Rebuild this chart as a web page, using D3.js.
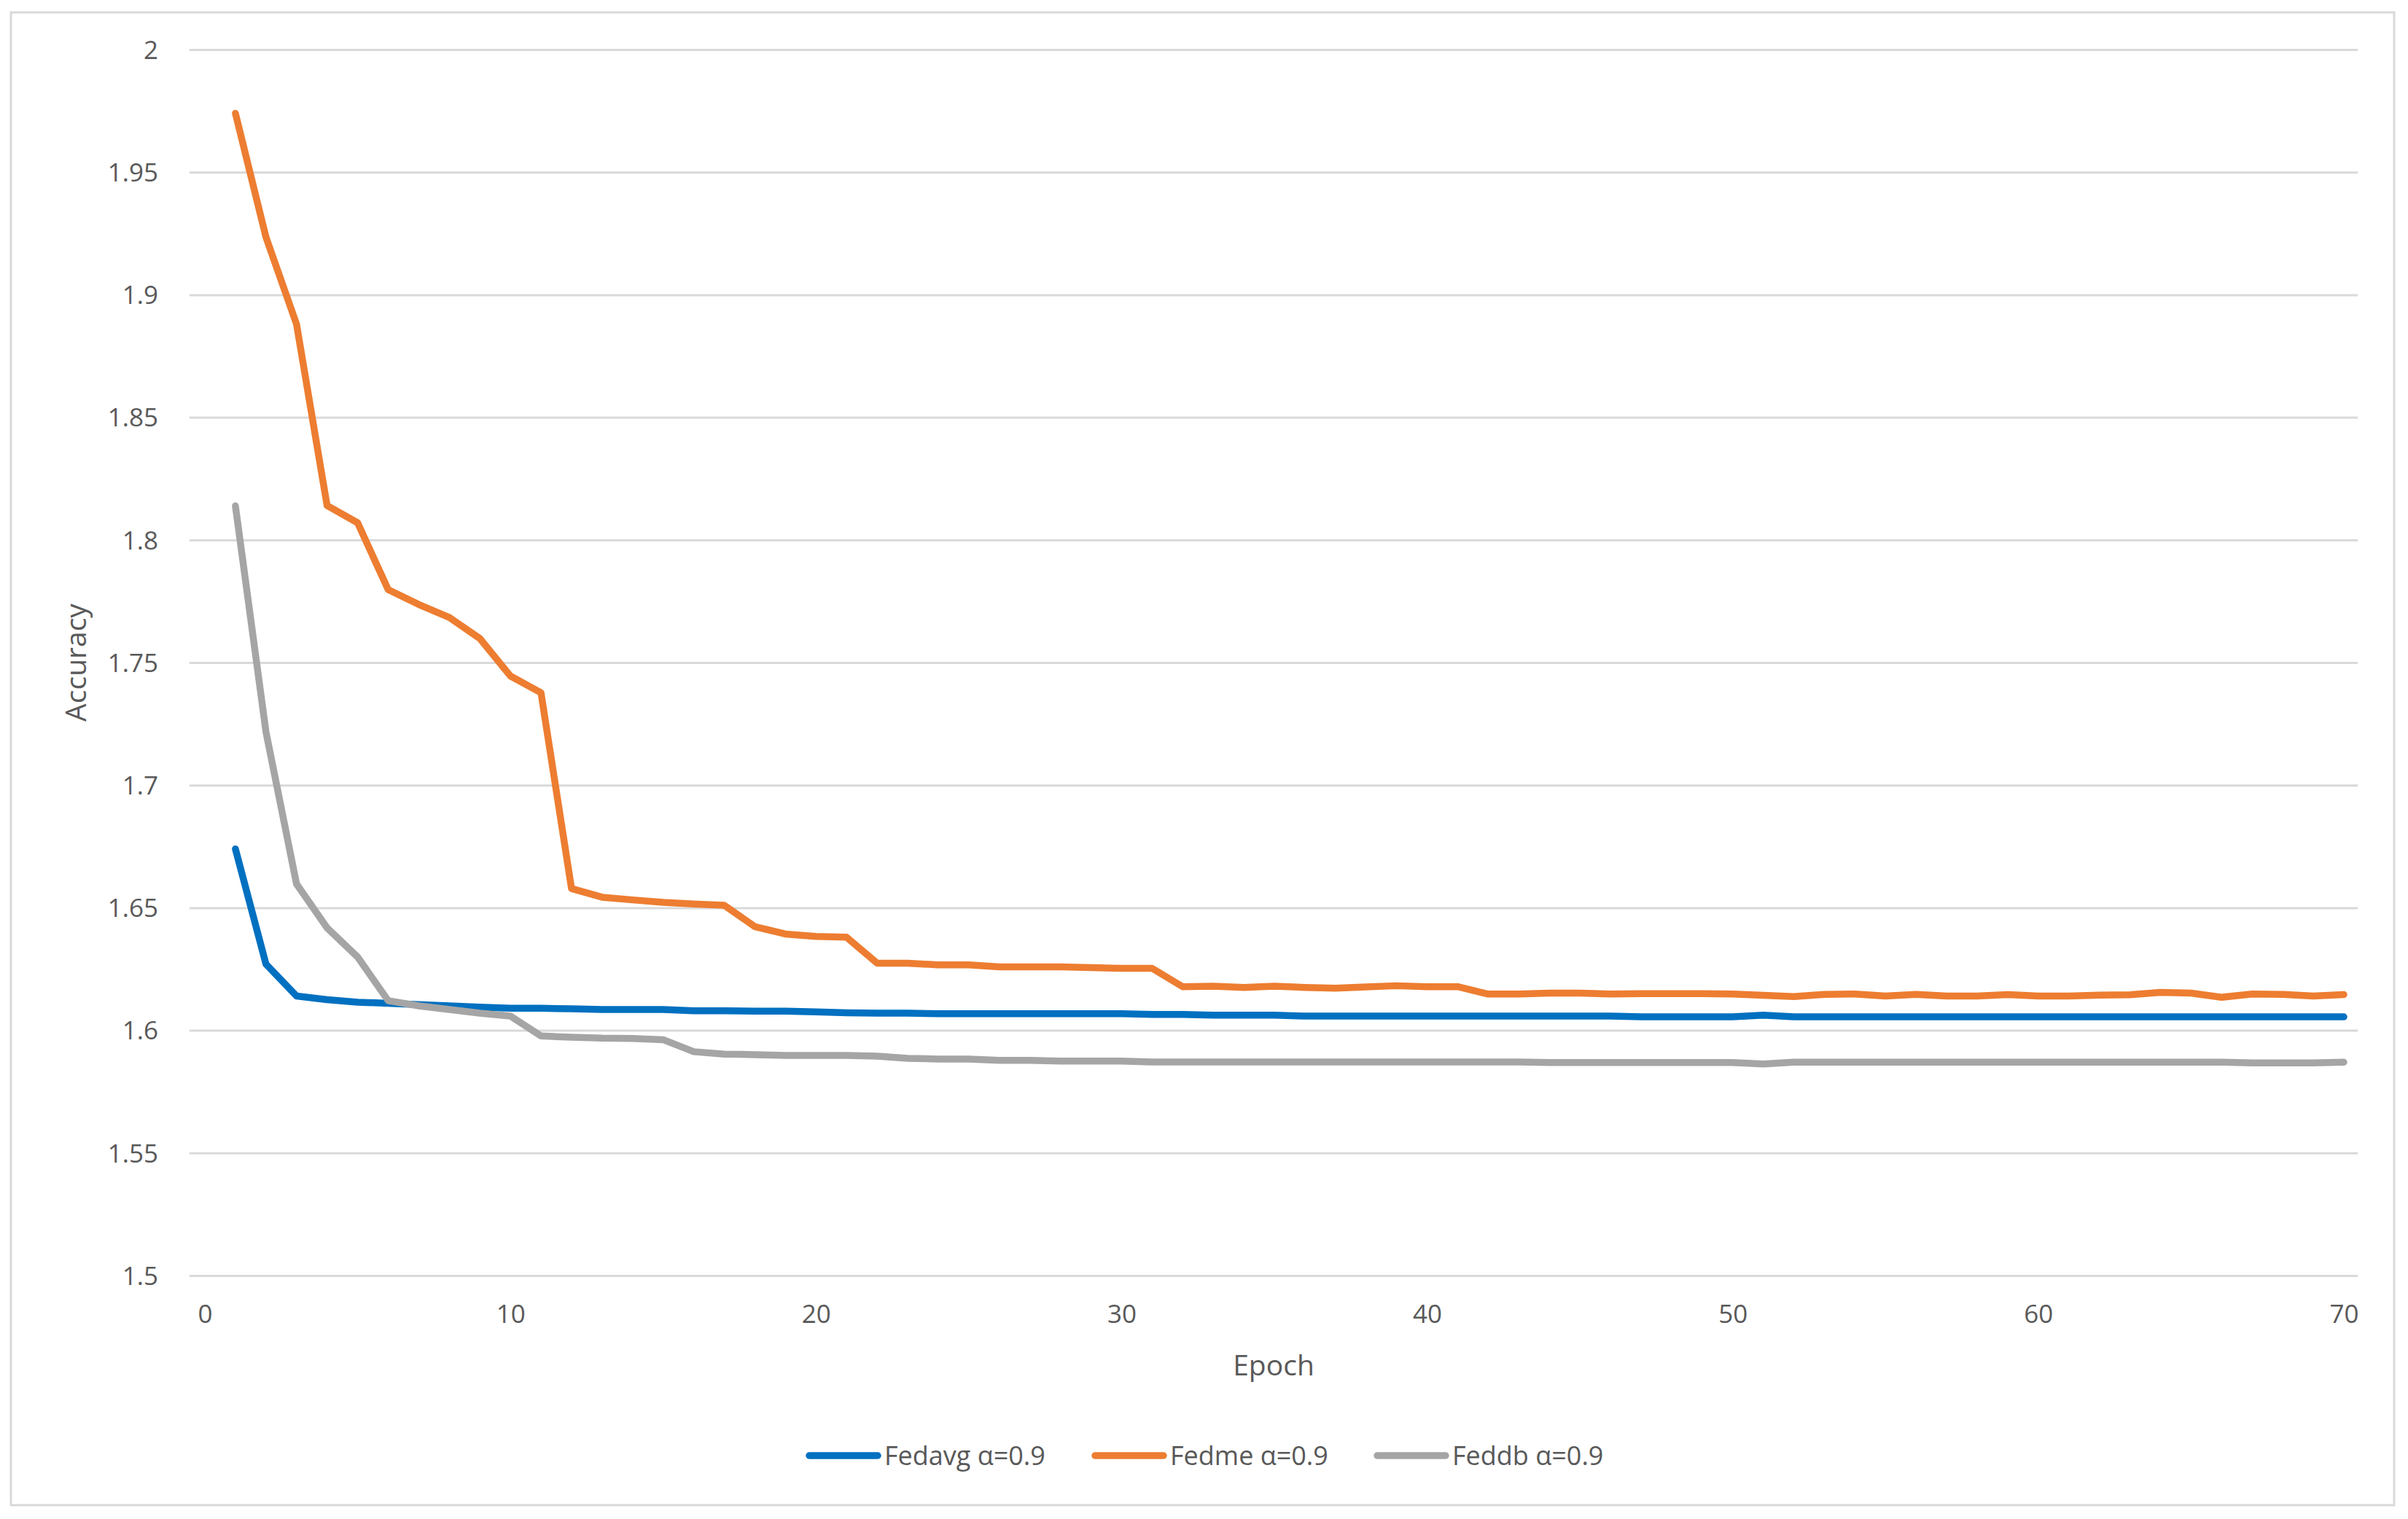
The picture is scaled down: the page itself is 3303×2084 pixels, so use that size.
<!DOCTYPE html>
<html>
<head>
<meta charset="utf-8">
<script src="https://cdn.jsdelivr.net/npm/d3@7"></script>
<style>
    body { margin: 0; background: #ffffff; }
    text { font-family: 'Open Sans', sans-serif; fill: #595959; }
</style>
</head>
<body>
<svg></svg>
<script>

let epochs = d3.range(1, 71)

let fedavg = [
    1.674, 1.627, 1.614, 1.6125, 1.6115, 1.611, 1.6105, 1.610, 1.6095, 1.609,
    1.609, 1.6088, 1.6085, 1.6085, 1.6085, 1.608, 1.608, 1.6078, 1.6078, 1.6075,
    1.6072, 1.607, 1.607, 1.6068, 1.6068, 1.6068, 1.6068, 1.6068, 1.6068, 1.6068,
    1.6065, 1.6065, 1.6062, 1.6062, 1.6062, 1.6058, 1.6058, 1.6058, 1.6058, 1.6058,
    1.6058, 1.6058, 1.6058, 1.6058, 1.6058, 1.6058, 1.6055, 1.6055, 1.6055, 1.6055,
    1.6062, 1.6055, 1.6055, 1.6055, 1.6055, 1.6055, 1.6055, 1.6055, 1.6055, 1.6055,
    1.6055, 1.6055, 1.6055, 1.6055, 1.6055, 1.6055, 1.6055, 1.6055, 1.6055, 1.6055
]

let fedme = [
    1.974, 1.9235, 1.888, 1.814, 1.807, 1.7797, 1.7737, 1.7684, 1.7598, 1.7445,
    1.7377, 1.6578, 1.6543, 1.6532, 1.6522, 1.6515, 1.651, 1.6423, 1.6393, 1.6383,
    1.638, 1.6274, 1.6274, 1.6267, 1.6267, 1.6259, 1.6259, 1.6259, 1.6256, 1.6253,
    1.6253, 1.6178, 1.618, 1.6175, 1.618, 1.6175, 1.6172, 1.6177, 1.6182, 1.6178,
    1.6178, 1.6148, 1.6148, 1.6152, 1.6152, 1.6148, 1.615, 1.615, 1.615, 1.6148,
    1.6143, 1.6138, 1.6147, 1.6148, 1.614, 1.6147, 1.614, 1.614, 1.6146, 1.614,
    1.614, 1.6144, 1.6145, 1.6155, 1.6152, 1.6135, 1.6148, 1.6147, 1.614, 1.6146
]

let feddb = [
    1.8139, 1.7217, 1.6597, 1.6418, 1.6299, 1.6121, 1.610, 1.6085, 1.607, 1.6058,
    1.5977, 1.5972, 1.5968, 1.5967, 1.5962, 1.5913, 1.5903, 1.5901, 1.5898, 1.5898,
    1.5898, 1.5895, 1.5886, 1.5883, 1.5883, 1.5878, 1.5878, 1.5875, 1.5875, 1.5875,
    1.5871, 1.5871, 1.5871, 1.5871, 1.5871, 1.5871, 1.5871, 1.5871, 1.5871, 1.5871,
    1.5871, 1.5871, 1.5871, 1.5869, 1.5869, 1.5869, 1.5869, 1.5869, 1.5869, 1.5869,
    1.5863, 1.587, 1.587, 1.587, 1.587, 1.587, 1.587, 1.587, 1.587, 1.587,
    1.587, 1.587, 1.587, 1.587, 1.587, 1.587, 1.5867, 1.5867, 1.5867, 1.587
]

let seriesNames = ['Fedavg α=0.9', 'Fedme α=0.9', 'Feddb α=0.9']
let seriesColors = ['#0070c0', '#ed7d31', '#a5a5a5']
let seriesValues = [fedavg, fedme, feddb]

let xTicks = [0, 10, 20, 30, 40, 50, 60, 70]
let yTicks = [1.5, 1.55, 1.6, 1.65, 1.7, 1.75, 1.8, 1.85, 1.9, 1.95, 2]

let width = 3303
let height = 2084

let gridLeft = 260
let gridRight = 3234

let svg = d3.select('svg')

let xScale
let yScale

let drawCanvas = () => {
    svg.attr('width', width)
       .attr('height', height)

    svg.append('rect')
       .attr('x', 0)
       .attr('y', 0)
       .attr('width', width)
       .attr('height', height)
       .attr('fill', '#ffffff')

    svg.append('rect')
       .attr('x', 15)
       .attr('y', 17)
       .attr('width', 3269)
       .attr('height', 2048)
       .attr('fill', 'none')
       .attr('stroke', '#d9d9d9')
       .attr('stroke-width', 3)
}

let generateScales = () => {
    xScale = d3.scaleLinear()
               .domain([0, 70])
               .range([281, 3215])

    yScale = d3.scaleLinear()
               .domain([1.5, 2])
               .range([1750, 68])
}

let generateAxes = () => {
    // horizontal gridlines
    let yAxis = d3.axisLeft(yScale)
                  .tickValues(yTicks)
                  .tickSize(-(gridRight - gridLeft))
                  .tickPadding(43)
                  .tickFormat(d => d3.format('')(d))

    let yg = svg.append('g')
                .attr('id', 'y-axis')
                .attr('transform', 'translate(' + gridLeft + ', 0)')
                .call(yAxis)

    yg.select('.domain').remove()
    yg.selectAll('line')
      .attr('stroke', '#d9d9d9')
      .attr('stroke-width', 3)
    yg.selectAll('text')
      .attr('font-size', 35)
      .attr('dy', '0.35em')
      .style('font-family', "'Open Sans', sans-serif")
      .attr('fill', '#595959')

    let xAxis = d3.axisBottom(xScale)
                  .tickValues(xTicks)
                  .tickSize(0)
                  .tickPadding(0)

    let xg = svg.append('g')
                .attr('id', 'x-axis')
                .attr('transform', 'translate(0, 1803)')
                .call(xAxis)

    xg.select('.domain').remove()
    xg.selectAll('text')
      .attr('font-size', 35)
      .attr('y', 0)
      .attr('dy', '0.35em')
      .style('font-family', "'Open Sans', sans-serif")
      .attr('fill', '#595959')

    svg.append('text')
       .attr('x', 1747)
       .attr('y', 1887)
       .attr('text-anchor', 'middle')
       .attr('font-size', 39)
       .text('Epoch')

    svg.append('text')
       .attr('transform', 'translate(118, 909) rotate(-90)')
       .attr('text-anchor', 'middle')
       .attr('font-size', 39)
       .text('Accuracy')
}

let drawLines = () => {
    let line = d3.line()
                 .x((d, i) => xScale(epochs[i]))
                 .y(d => yScale(d))

    seriesValues.forEach((values, idx) => {
        svg.append('path')
           .datum(values)
           .attr('fill', 'none')
           .attr('stroke', seriesColors[idx])
           .attr('stroke-width', 9.5)
           .attr('stroke-linejoin', 'round')
           .attr('stroke-linecap', 'round')
           .attr('d', line)
    })
}

let drawLegend = () => {
    let legendX = [1110, 1502, 1889]

    seriesNames.forEach((name, idx) => {
        let g = svg.append('g')
                   .attr('transform', 'translate(' + legendX[idx] + ', 1997)')

        g.append('line')
         .attr('x1', 0)
         .attr('x2', 94)
         .attr('y1', 0)
         .attr('y2', 0)
         .attr('stroke', seriesColors[idx])
         .attr('stroke-width', 9.5)
         .attr('stroke-linecap', 'round')

        g.append('text')
         .attr('x', 103)
         .attr('y', 0)
         .attr('dy', '0.35em')
         .attr('font-size', 36)
         .text(name)
    })
}

drawCanvas()
generateScales()
generateAxes()
drawLines()
drawLegend()

</script>
</body>
</html>
